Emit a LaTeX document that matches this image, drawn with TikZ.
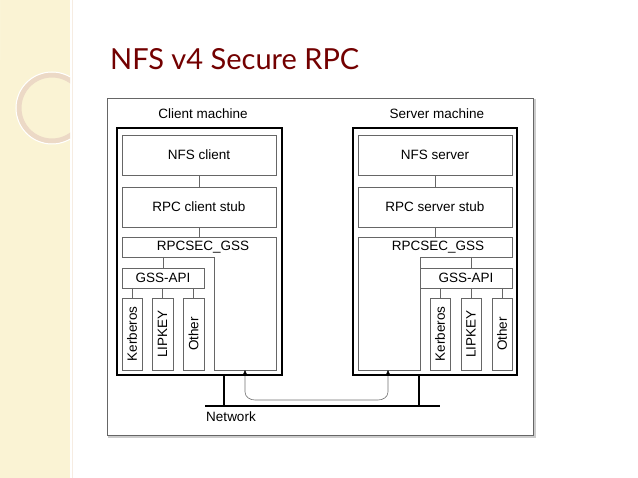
\documentclass[tikz,border=0pt]{standalone}
\usepackage{fontspec}
\setmainfont{Liberation Sans}
\newfontfamily\titlefont{Lato}
\usetikzlibrary{arrows.meta}
\begin{document}
\begin{tikzpicture}[x=1pt,y=-1pt,
  box/.style={draw=black!60,line width=0.6pt,inner sep=0pt},
  mach/.style={draw=black,line width=1.3pt},
  lbl/.style={font=\fontsize{13.5}{15}\selectfont},
  ln/.style={draw=black!60,line width=0.5pt},
  net/.style={line width=2pt}]
\useasboundingbox (0,0) rectangle (638,478);
\fill[white] (0,0) rectangle (638,478);
% decoration strip
\fill[orange!15!yellow!12!white!92!brown] (0,0) rectangle (70,478);
\draw[white,line width=1pt] (70,0) -- (70,478);
\draw[white!85!brown,line width=1pt] (72,0) -- (72,478);
\begin{scope}
\clip (0,0) rectangle (70,478);
\fill[white!60!orange!20!yellow!10] (0,0) -- (70,-2) arc[start angle=0,end angle=-130,radius=52] -- (0,60) -- cycle;
\draw[white!80!brown,line width=1pt] (70,-2) arc[start angle=0,end angle=-130,radius=52];
\draw[white!70!brown,line width=5pt] (52,108) circle[radius=33];
\draw[white,line width=1pt] (52,108) circle[radius=36];
\end{scope}
\node[anchor=base west,text=red!45!black,inner sep=0pt,font=\titlefont\fontsize{29}{32}\selectfont] (title) at (110,70) {NFS v4 Secure RPC};
% frame
\draw[black!20,line width=2pt] (109,100) rectangle (535,437);
\draw[box,fill=white] (107,98) rectangle (533,435);
% client
\node[lbl] (cm) at (203,114) {Client machine};
\draw[mach] (117,128) rectangle (282,375);
\node[box,lbl,minimum width=154pt,minimum height=40pt] (nfsc) at (199,155) {NFS client};
\node[box,lbl,minimum width=154pt,minimum height=40pt] (rpcc) at (199,207) {RPC client stub};
\draw[box] (122,237) -- (276,237) -- (276,370) -- (214,370) -- (214,257) -- (122,257) -- cycle;
\node[lbl] (secc) at (203,247) {RPCSEC\_GSS};
\coordinate (secct) at (199,237);
\coordinate (seccb) at (163,257);
\node[box,lbl,minimum width=82pt,minimum height=20pt] (gssc) at (163,278) {GSS-API};
\node[box,lbl,rotate=90,minimum width=72pt,minimum height=20pt] (kc) at (132,334) {Kerberos};
\node[box,lbl,rotate=90,minimum width=72pt,minimum height=21pt] (lc) at (162.5,334) {LIPKEY};
\node[box,lbl,rotate=90,minimum width=72pt,minimum height=21pt] (oc) at (193.5,334) {Other};
\draw[ln] (nfsc.south) -- (rpcc.north);
\draw[ln] (rpcc.south) -- (secct);
\draw[ln] (seccb) -- (gssc.north);
\draw[ln] (132,288) -- (kc.east);
\draw[ln] (162.5,288) -- (lc.east);
\draw[ln] (193.5,288) -- (oc.east);
% server
\node[lbl] (sm) at (437,114) {Server machine};
\draw[mach] (353,128) rectangle (517,375);
\node[box,lbl,minimum width=154pt,minimum height=40pt] (nfss) at (435,155) {NFS server};
\node[box,lbl,minimum width=154pt,minimum height=40pt] (rpcs) at (435,207) {RPC server stub};
\draw[box] (358,237) -- (512,237) -- (512,257) -- (420,257) -- (420,370) -- (358,370) -- cycle;
\node[lbl] (secs) at (438,247) {RPCSEC\_GSS};
\coordinate (secst) at (435,237);
\coordinate (secsb) at (471,257);
\node[box,lbl,minimum width=92pt,minimum height=20pt] (gsss) at (466,278) {GSS-API};
\node[box,lbl,rotate=90,minimum width=72pt,minimum height=20pt] (ks) at (440,334) {Kerberos};
\node[box,lbl,rotate=90,minimum width=72pt,minimum height=20pt] (ls) at (471,334) {LIPKEY};
\node[box,lbl,rotate=90,minimum width=72pt,minimum height=20pt] (os) at (502,334) {Other};
\draw[ln] (nfss.south) -- (rpcs.north);
\draw[ln] (rpcs.south) -- (secst);
\draw[ln] (secsb) -- (471,268);
\draw[ln] (440,288) -- (ks.east);
\draw[ln] (471,288) -- (ls.east);
\draw[ln] (502,288) -- (os.east);
% network
\coordinate (nl) at (205,406);
\coordinate (nr) at (440,406);
\draw[net] (nl) -- (nr);
\draw[net] (224,375) -- (224,406);
\draw[net] (419,375) -- (419,406);
\node[lbl] (netl) at (231,417) {Network};
\coordinate (ac) at (245,370);
\coordinate (as) at (388,370);
\draw[black!55,line width=0.6pt,{Triangle[black,length=6pt,width=5pt]}-{Triangle[black,length=6pt,width=5pt]}]
  (ac) -- (245,392) to[out=-90,in=180] (255,400) -- (378,400) to[out=0,in=-90] (388,392) -- (as);
\end{tikzpicture}
\end{document}
